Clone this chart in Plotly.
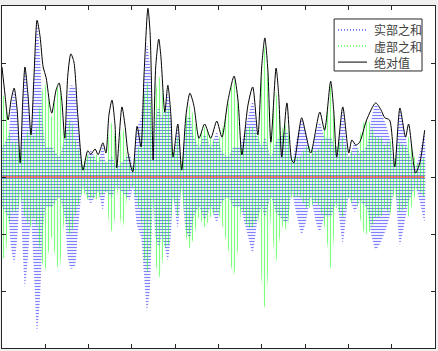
import plotly.graph_objects as go

# |sum| envelope (black line)
abs_x = [0.00,0.07,0.14,0.21,0.28,0.35,0.42,0.48,0.53,0.60,0.67,0.74,0.81,0.88,0.95,1.02,1.11,1.15,1.25,1.32,1.38,1.45,1.52,1.59,1.66,1.75,1.87,1.98,2.05,2.15,2.22,2.33,2.40,2.47,2.54,2.61,2.65,2.77,2.84,2.91,3.02,3.12,3.21,3.28,3.37,3.42,3.46,3.49,3.55,3.62,3.67,3.76,3.83,3.90,3.95,4.06,4.15,4.25,4.34,4.43,4.55,4.68,4.82,4.96,5.08,5.22,5.36,5.45,5.54,5.68,5.79,5.91,6.00,6.07,6.14,6.21,6.33,6.39,6.46,6.58,6.69,6.74,6.92,7.02,7.13,7.34,7.45,7.59,7.66,7.73,7.87,8.01,8.08,8.17,8.26,8.42,8.63,8.75,8.84,8.95,9.07,9.19,9.32,9.39,9.55,9.65,9.76]
abs_y = [1.93,1.44,1.00,1.35,1.56,1.18,0.25,1.35,1.93,1.44,0.74,1.79,2.75,2.46,1.93,1.74,1.23,1.12,1.53,1.65,1.35,0.68,1.79,2.16,2.02,1.09,0.12,0.46,0.40,0.49,0.39,0.60,0.42,1.09,1.35,0.91,0.16,1.23,0.91,0.42,0.09,0.89,0.53,1.79,2.96,2.53,1.35,0.30,1.93,2.42,2.11,1.14,1.61,1.09,0.35,0.93,0.12,1.09,1.47,1.26,0.68,0.93,0.68,0.98,0.70,1.35,1.77,1.35,0.39,1.26,1.58,0.74,1.96,2.44,1.88,0.61,1.91,1.44,0.35,1.30,0.30,0.25,1.04,0.74,0.42,1.14,0.82,1.68,1.18,0.35,1.23,0.42,0.65,0.56,0.61,1.00,1.30,1.18,1.04,1.00,0.18,1.21,0.70,0.93,0.07,0.25,0.82]

# real-part swing (blue)
re_x = [0.00,0.14,0.21,0.28,0.35,0.42,0.48,0.53,0.60,0.67,0.74,0.81,0.88,0.95,1.02,1.15,1.32,1.45,1.52,1.59,1.68,1.75,1.87,2.05,2.22,2.33,2.40,2.54,2.65,2.77,2.95,3.02,3.12,3.21,3.28,3.35,3.42,3.49,3.55,3.62,3.69,3.76,3.83,3.90,3.95,4.06,4.15,4.25,4.34,4.43,4.55,4.68,4.82,4.96,5.08,5.22,5.35,5.49,5.63,5.79,5.91,6.00,6.07,6.21,6.32,6.42,6.58,6.69,6.79,6.92,7.02,7.13,7.25,7.34,7.45,7.59,7.73,7.87,8.01,8.15,8.26,8.42,8.54,8.63,8.75,8.86,8.95,9.07,9.19,9.28,9.39,9.55,9.65,9.76]
re_amp = [0.53,0.70,1.23,1.51,1.10,0.26,1.30,1.93,1.40,0.70,1.70,2.72,2.11,0.88,0.53,0.53,0.35,0.70,1.40,1.61,1.58,1.00,0.18,0.46,0.26,0.58,0.26,0.35,0.18,0.26,0.40,0.18,0.86,1.05,1.70,2.35,1.93,0.35,1.05,1.23,1.05,1.23,1.46,1.05,0.35,0.89,0.18,0.96,1.07,0.70,0.53,0.75,0.53,0.79,0.44,0.35,0.53,0.53,0.88,1.33,0.70,0.53,0.70,0.35,0.61,0.70,0.81,0.26,0.61,1.00,0.79,0.35,0.79,0.96,0.70,0.70,0.44,1.16,0.35,0.61,0.44,0.53,1.05,1.28,1.14,0.93,0.70,0.18,1.19,0.88,0.44,0.18,0.44,0.79]

# imaginary-part swing (green)
im_x = [0.00,0.07,0.14,0.21,0.28,0.35,0.42,0.53,0.67,0.74,0.81,0.90,0.99,1.06,1.15,1.25,1.32,1.38,1.45,1.52,1.59,1.68,1.75,1.87,1.98,2.08,2.15,2.26,2.40,2.47,2.54,2.61,2.65,2.77,2.84,2.91,3.02,3.12,3.21,3.28,3.35,3.42,3.49,3.55,3.62,3.69,3.76,3.83,3.90,3.95,4.06,4.15,4.25,4.34,4.43,4.55,4.68,4.82,4.96,5.05,5.22,5.35,5.45,5.54,5.68,5.79,5.91,6.00,6.07,6.14,6.21,6.32,6.42,6.51,6.58,6.69,6.76,6.88,7.02,7.13,7.25,7.34,7.45,7.52,7.59,7.66,7.73,7.87,8.01,8.08,8.17,8.26,8.38,8.49,8.63,8.75,8.86,8.95,9.07,9.19,9.32,9.39,9.49,9.60,9.76]
im_amp = [1.42,1.42,0.88,0.70,0.53,0.70,0.35,0.70,0.88,0.70,0.88,1.40,1.65,1.40,1.05,1.49,1.65,1.25,0.70,0.88,1.05,0.70,0.53,0.26,0.40,0.35,0.40,0.35,0.26,0.79,0.96,0.70,0.18,0.91,0.70,0.26,0.18,0.44,0.70,1.40,1.68,1.40,0.53,1.49,1.79,1.58,1.23,1.23,0.88,0.35,0.70,0.18,1.05,1.26,1.05,0.70,0.88,0.70,0.61,0.75,1.25,1.75,1.25,0.53,0.88,0.88,0.70,1.85,2.30,1.75,0.70,1.53,1.05,0.79,1.00,0.35,0.35,0.35,0.53,0.53,0.44,0.53,0.88,1.20,1.61,1.10,0.53,0.70,0.35,0.46,0.35,0.70,1.00,0.96,0.70,0.70,0.53,0.70,0.26,0.61,0.53,0.70,0.44,0.23,0.35]

legend_names = ["实部之和", "虚部之和", "绝对值"]
x_ticks = [1, 2, 3, 4, 5, 6, 7, 8, 9]
y_ticks = [-2, -1, 0, 1, 2]

BLUE = "#0000ff"
GREEN = "#00ff00"
TEXT = "#404040"

fig = go.Figure()

def band(xs, amps, color, shape, size, solidity):
    px = list(xs) + list(xs[::-1])
    py = list(amps) + [-a for a in amps[::-1]]
    return go.Scatter(
        x=px, y=py, mode="lines", fill="toself",
        line=dict(width=0, color=color, shape="spline", smoothing=0.5),
        fillcolor="rgba(0,0,0,0)",
        fillpattern=dict(shape=shape, fgcolor=color, bgcolor="rgba(0,0,0,0)",
                         size=size, solidity=solidity),
        showlegend=False, hoverinfo="skip")

fig.add_trace(band(re_x, re_amp, BLUE, "-", 3, 0.4))
fig.add_trace(band(im_x, im_amp, GREEN, "|", 3, 0.4))

fig.add_trace(go.Scatter(x=abs_x, y=abs_y, mode="lines",
                         line=dict(color="black", width=1, shape="spline", smoothing=0.7),
                         showlegend=False, hoverinfo="skip"))
fig.add_trace(go.Scatter(x=[abs_x[0], abs_x[-1]], y=[0, 0], mode="lines",
                         line=dict(color="#ff0000", width=1), showlegend=False,
                         hoverinfo="skip"))

axis_common = dict(showgrid=False, zeroline=False, showline=True, linecolor="#262626",
                   linewidth=1, mirror="ticks", ticks="inside", ticklen=4,
                   tickcolor="#262626", showticklabels=False)

# MATLAB-style legend box drawn in paper coordinates
leg_x0, leg_x1, leg_y0, leg_y1 = 0.767, 0.970, 0.810, 0.962
row_y = [0.930, 0.883, 0.836]
sample_x0, sample_x1, text_x = 0.776, 0.843, 0.855
sample_styles = [(BLUE, "1px,2px"), (GREEN, "1px,2px"), ("black", "solid")]

shapes = [dict(type="rect", xref="paper", yref="paper", x0=leg_x0, x1=leg_x1,
               y0=leg_y0, y1=leg_y1, line=dict(color="#262626", width=1),
               fillcolor="white", layer="above")]
annotations = []
for name, ry, (col, dash) in zip(legend_names, row_y, sample_styles):
    shapes.append(dict(type="line", xref="paper", yref="paper", x0=sample_x0, x1=sample_x1,
                       y0=ry, y1=ry, line=dict(color=col, width=1, dash=dash), layer="above"))
    annotations.append(dict(xref="paper", yref="paper", x=text_x, y=ry, text=name,
                            showarrow=False, xanchor="left", yanchor="middle",
                            font=dict(family="Noto Sans CJK SC", size=12, color=TEXT)))

fig.update_layout(
    width=438, height=351,
    margin=dict(l=2, r=3, t=6, b=3),
    paper_bgcolor="#f0f0f0", plot_bgcolor="white",
    xaxis=dict(range=[0, 10], tickvals=x_ticks, **axis_common),
    yaxis=dict(range=[-3, 3], tickvals=y_ticks, **axis_common),
    showlegend=False,
    shapes=shapes, annotations=annotations,
    font=dict(family="Noto Sans CJK SC"),
)

fig.write_html("out.html")
